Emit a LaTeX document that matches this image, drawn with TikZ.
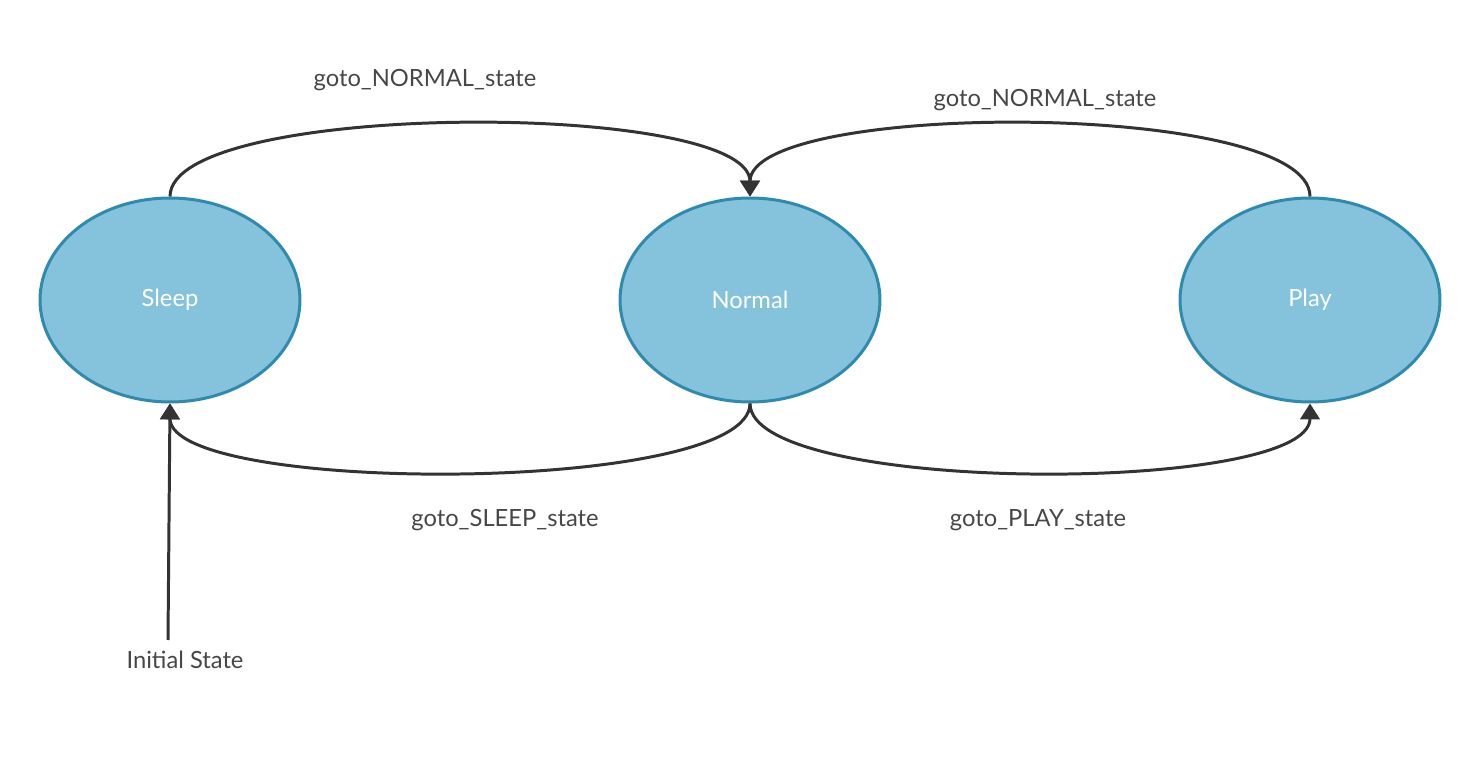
\documentclass[tikz,border=0pt]{standalone}
\usepackage{fontspec}
\setmainfont{Lato}
\usetikzlibrary{arrows.meta,shapes.geometric}
\definecolor{sfill}{HTML}{84C3DB}
\definecolor{sline}{HTML}{2E8AAE}
\definecolor{ink}{HTML}{333333}
\begin{document}
\begin{tikzpicture}[x=0.02cm,y=-0.02cm,
  state/.style={ellipse,draw=sline,fill=sfill,line width=1.7pt,minimum width=5.2cm,minimum height=4.08cm,text=white,font=\fontsize{13.5}{16}\selectfont},
  edge/.style={draw=ink,line width=1.7pt,-{Triangle[length=9pt,width=11pt]}},
  lab/.style={text=ink!90,font=\fontsize{13.5}{16}\selectfont}]
\useasboundingbox (0,0) rectangle (1480,780);
\node[state] (s) at (170,300) {Sleep};
\node[state] (n) at (750,300) {Normal};
\node[state] (p) at (1310,300) {Play};
\coordinate (i) at (168,640);
\draw[edge] (s.north) .. controls (170,100) and (750,100) .. (n.north);
\draw[edge] (p.north) .. controls (1310,100) and (750,100) .. (n.north);
\draw[edge] (n.south) .. controls (750,495) and (170,495) .. (s.south);
\draw[edge] (n.south) .. controls (750,495) and (1310,495) .. (p.south);
\draw[edge] (i) -- (s.south);
\node[lab] (l1) at (425,80) {goto\_NORMAL\_state};
\node[lab] (l2) at (1045,100) {goto\_NORMAL\_state};
\node[lab] (l3) at (505,520) {goto\_SLEEP\_state};
\node[lab] (l4) at (1038,520) {goto\_PLAY\_state};
\node[lab] (l5) at (185,660) {Initial State};
\end{tikzpicture}
\end{document}
